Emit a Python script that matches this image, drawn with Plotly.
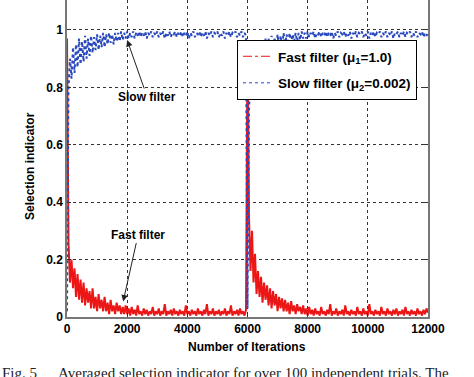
import plotly.graph_objects as go

# iteration positions (every 50 iterations), two halves around the change at 6000
iter_first = list(range(0, 6000, 50))
iter_second = list(range(6000, 12001, 50))

fast_first = [
    0.97, 0.26, 0.12, 0.20, 0.10, 0.17, 0.07, 0.15, 0.06, 0.13,
    0.05, 0.12, 0.04, 0.10, 0.05, 0.09, 0.03, 0.10, 0.03, 0.07,
    0.02, 0.08, 0.03, 0.06, 0.02, 0.07, 0.02, 0.05, 0.01, 0.06,
    0.02, 0.04, 0.01, 0.05, 0.02, 0.04, 0.01, 0.035, 0.01, 0.04,
    0.01, 0.03, 0.005, 0.035, 0.01, 0.025, 0.005, 0.04, 0.01, 0.02,
    0.005, 0.03, 0.01, 0.025, 0.005, 0.02, 0.01, 0.035, 0.005, 0.02,
    0.01, 0.03, 0.005, 0.02, 0.01, 0.045, 0.005, 0.02, 0.01, 0.025,
    0.005, 0.03, 0.01, 0.02, 0.005, 0.025, 0.01, 0.02, 0.005, 0.04,
    0.01, 0.02, 0.005, 0.025, 0.01, 0.02, 0.005, 0.03, 0.01, 0.02,
    0.005, 0.025, 0.01, 0.045, 0.005, 0.02, 0.01, 0.03, 0.005, 0.02,
    0.01, 0.025, 0.005, 0.02, 0.01, 0.03, 0.005, 0.02, 0.01, 0.04,
    0.005, 0.02, 0.01, 0.025, 0.005, 0.03, 0.01, 0.02, 0.005, 0.025,
]
fast_second = [
    0.96, 0.35, 0.16, 0.30, 0.12, 0.22, 0.08, 0.16, 0.07, 0.14,
    0.05, 0.12, 0.06, 0.11, 0.04, 0.10, 0.03, 0.09, 0.04, 0.08,
    0.02, 0.07, 0.03, 0.065, 0.02, 0.06, 0.02, 0.05, 0.01, 0.055,
    0.02, 0.04, 0.01, 0.045, 0.02, 0.035, 0.01, 0.04, 0.01, 0.03,
    0.005, 0.035, 0.01, 0.025, 0.005, 0.03, 0.01, 0.02, 0.005, 0.035,
    0.01, 0.02, 0.005, 0.025, 0.01, 0.045, 0.005, 0.02, 0.01, 0.03,
    0.005, 0.02, 0.01, 0.025, 0.005, 0.04, 0.01, 0.02, 0.005, 0.025,
    0.01, 0.02, 0.005, 0.035, 0.01, 0.02, 0.005, 0.03, 0.01, 0.02,
    0.005, 0.045, 0.01, 0.02, 0.005, 0.025, 0.01, 0.02, 0.005, 0.035,
    0.01, 0.02, 0.005, 0.03, 0.01, 0.02, 0.005, 0.025, 0.01, 0.03,
    0.005, 0.02, 0.01, 0.025, 0.005, 0.035, 0.01, 0.02, 0.005, 0.025,
    0.01, 0.02, 0.005, 0.03, 0.01, 0.02, 0.005, 0.025, 0.01, 0.03,
    0.015,
]
slow_first = [
    0.02, 0.80, 0.90, 0.83, 0.94, 0.85, 0.95, 0.87, 0.97, 0.88,
    0.96, 0.89, 0.98, 0.90, 0.97, 0.91, 0.98, 0.92, 0.975, 0.93,
    0.985, 0.93, 0.98, 0.94, 0.99, 0.94, 0.985, 0.95, 0.99, 0.955,
    0.985, 0.95, 0.99, 0.96, 0.99, 0.96, 0.995, 0.965, 0.99, 0.97,
    0.995, 0.97, 0.99, 0.975, 0.995, 0.97, 0.99, 0.98, 0.995, 0.975,
    0.99, 0.98, 0.995, 0.97, 0.99, 0.98, 0.995, 0.975, 0.99, 0.98,
    0.995, 0.975, 0.99, 0.98, 0.995, 0.97, 0.99, 0.98, 0.995, 0.975,
    0.99, 0.985, 0.995, 0.975, 0.99, 0.98, 0.995, 0.975, 0.99, 0.98,
    0.995, 0.97, 0.99, 0.98, 0.995, 0.975, 0.99, 0.985, 0.995, 0.975,
    0.99, 0.98, 0.995, 0.97, 0.99, 0.98, 0.995, 0.975, 0.99, 0.985,
    0.995, 0.975, 0.99, 0.98, 0.995, 0.97, 0.99, 0.98, 0.995, 0.975,
    0.99, 0.985, 0.995, 0.975, 0.99, 0.98, 0.995, 0.975, 0.99, 0.98,
]
slow_second = [
    0.03, 0.72, 0.87, 0.80, 0.92, 0.83, 0.94, 0.85, 0.96, 0.87,
    0.95, 0.88, 0.97, 0.90, 0.97, 0.91, 0.98, 0.92, 0.975, 0.93,
    0.985, 0.93, 0.98, 0.94, 0.99, 0.945, 0.985, 0.95, 0.99, 0.955,
    0.985, 0.96, 0.99, 0.96, 0.99, 0.965, 0.995, 0.97, 0.99, 0.97,
    0.995, 0.975, 0.99, 0.98, 0.995, 0.97, 0.99, 0.985, 0.995, 0.975,
    0.99, 0.98, 0.995, 0.975, 0.99, 0.98, 0.995, 0.97, 0.99, 0.98,
    0.995, 0.975, 0.99, 0.985, 0.995, 0.975, 0.99, 0.98, 0.995, 0.97,
    0.99, 0.98, 0.995, 0.975, 0.99, 0.985, 0.995, 0.975, 0.99, 0.98,
    0.995, 0.97, 0.99, 0.98, 0.995, 0.975, 0.99, 0.985, 0.995, 0.975,
    0.99, 0.98, 0.995, 0.975, 0.99, 0.98, 0.995, 0.97, 0.99, 0.985,
    0.995, 0.975, 0.99, 0.98, 0.995, 0.975, 0.99, 0.985, 0.995, 0.975,
    0.99, 0.98, 0.995, 0.975, 0.99, 0.985, 0.995, 0.975, 0.99, 0.98,
    0.99,
]

x_ticks = [0, 2000, 4000, 6000, 8000, 10000, 12000]
x_tick_labels = ["0", "2000", "4000", "6000", "8000", "10000", "12000"]
y_ticks = [0, 0.2, 0.4, 0.6, 0.8, 1]
y_tick_labels = ["0", "0.2", "0.4", "0.6", "0.8", "1"]
series_names = ["Fast filter (μ<sub>1</sub>=1.0)", "Slow filter (μ<sub>2</sub>=0.002)"]

iters = iter_first + iter_second
fast = fast_first + fast_second
slow = slow_first + slow_second

FONT = "Liberation Sans, Arial, sans-serif"
SERIF = "Liberation Serif, Times New Roman, serif"
RED = "rgb(236,22,22)"
BLUE = "rgb(40,72,190)"

fig = go.Figure()
# data traces
fig.add_trace(go.Scatter(x=iters, y=fast, mode="lines", showlegend=False,
                         line=dict(color=RED, width=2)))
fig.add_trace(go.Scatter(x=iters, y=slow, mode="lines", showlegend=False,
                         line=dict(color=BLUE, width=2, dash="dot")))
# legend entries (line-style keys)
fig.add_trace(go.Scatter(x=[None], y=[None], mode="lines", name=series_names[0],
                         legendgroup="a", line=dict(color=RED, width=1, dash="dashdot")))
fig.add_trace(go.Scatter(x=[None], y=[None], mode="lines", name=series_names[1],
                         legendgroup="b", line=dict(color=BLUE, width=1, dash="dot")))

axis_common = dict(
    showline=True, linecolor="#777", linewidth=1.5,
    ticks="inside", ticklen=4, tickcolor="#333",
    showgrid=True, gridcolor="#333", griddash="dot", gridwidth=1,
    zeroline=False,
    tickfont=dict(family=FONT, size=12, color="black", weight="bold"),
)
fig.update_xaxes(range=[0, 12000], tickvals=x_ticks, ticktext=x_tick_labels, mirror=False, **axis_common)
fig.update_yaxes(range=[0, 1.1045], tickvals=y_ticks, ticktext=y_tick_labels,
                 mirror="ticks", **axis_common)

W, H = 474, 377
L, R, T, B = 67, 46, 0, 60
pw, ph = W - L - R, H - T - B


def px(xp):
    return (xp - L) / pw


def py(yp):
    return (H - B - yp) / ph


annotations = [
    dict(text="<b>Number of Iterations</b>", x=px(247), y=py(347), xref="paper", yref="paper",
         showarrow=False, xanchor="center", yanchor="middle",
         font=dict(family=FONT, size=12, color="black")),
    dict(text="<b>Selection indicator</b>", x=px(30), y=py(166), xref="paper", yref="paper",
         showarrow=False, xanchor="center", yanchor="middle", textangle=-90,
         font=dict(family=FONT, size=12, color="black")),
    dict(text="<b>Slow filter</b>", x=2000, y=0.965, xref="x", yref="y",
         ax=20, ay=57, showarrow=True, arrowhead=2, arrowsize=1.3, arrowwidth=1,
         arrowcolor="#222", font=dict(family=FONT, size=12, color="black")),
    dict(text="<b>Fast filter</b>", x=1867, y=0.054, xref="x", yref="y",
         ax=15, ay=-67, showarrow=True, arrowhead=2, arrowsize=1.3, arrowwidth=1,
         arrowcolor="#222", font=dict(family=FONT, size=12, color="black")),
    dict(text="Fig. 5", x=px(0), y=py(363), xref="paper", yref="paper",
         showarrow=False, xanchor="left", yanchor="top",
         font=dict(family=SERIF, size=15, color="#222")),
    dict(text="Averaged selection indicator for over 100 independent trials. The",
         x=px(56), y=py(363), xref="paper", yref="paper",
         showarrow=False, xanchor="left", yanchor="top",
         font=dict(family=SERIF, size=15, color="#222")),
]

fig.update_layout(
    width=W, height=H,
    margin=dict(l=L, r=R, t=T, b=B),
    plot_bgcolor="white", paper_bgcolor="white",
    showlegend=True,
    legend=dict(x=px(237), y=py(40), xanchor="left", yanchor="top",
                bgcolor="white", bordercolor="black", borderwidth=1,
                tracegroupgap=6,
                font=dict(family=FONT, size=13.5, color="black", weight="bold")),
    annotations=annotations,
)

fig.write_html("out.html", config={"displayModeBar": False},
               post_script="document.body.style.margin='0px';")
